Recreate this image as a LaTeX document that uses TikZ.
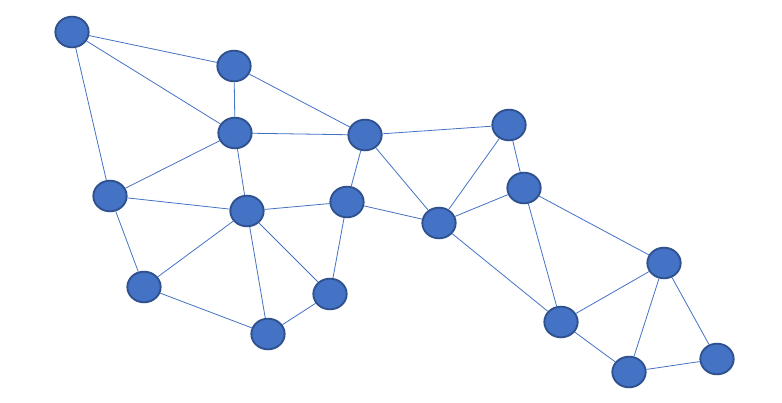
\documentclass[tikz,border=0pt]{standalone}
\usepackage{tikz}
\usetikzlibrary{shapes.geometric}
\definecolor{nodefill}{HTML}{4472C4}
\definecolor{nodeline}{HTML}{2F528F}
\tikzstyle{vertex}=[ellipse,fill=nodefill,draw=nodeline,line width=1.4pt,minimum width=25pt,minimum height=23pt,inner sep=0pt]
\tikzstyle{link}=[draw=nodefill,line width=0.6pt]

\begin{document}
\begin{tikzpicture}[x=0.75pt,y=-0.75pt]
      \useasboundingbox (0,0) rectangle (782,403);
      \node[vertex] at (72,  32) (v1) {};
      \node[vertex] at (234, 66) (v2) {};
      \node[vertex] at (235,133) (v3) {};
      \node[vertex] at (365,135) (v4) {};
      \node[vertex] at (509,125) (v5) {};
      \node[vertex] at (110,196) (v6) {};
      \node[vertex] at (247,211) (v7) {};
      \node[vertex] at (347,202) (v8) {};
      \node[vertex] at (439,223) (v9) {};
      \node[vertex] at (524,188) (v10) {};
      \node[vertex] at (144,287) (v11) {};
      \node[vertex] at (330,294) (v12) {};
      \node[vertex] at (268,334) (v13) {};
      \node[vertex] at (664,263) (v14) {};
      \node[vertex] at (561,322) (v15) {};
      \node[vertex] at (629,372) (v16) {};
      \node[vertex] at (717,359) (v17) {};
      \path[link] (v1) edge (v2);
      \path[link] (v1) edge (v3);
      \path[link] (v1) edge (v6);
      \path[link] (v2) edge (v3);
      \path[link] (v2) edge (v4);
      \path[link] (v3) edge (v4);
      \path[link] (v3) edge (v6);
      \path[link] (v3) edge (v7);
      \path[link] (v4) edge (v5);
      \path[link] (v4) edge (v8);
      \path[link] (v4) edge (v9);
      \path[link] (v5) edge (v9);
      \path[link] (v5) edge (v10);
      \path[link] (v6) edge (v7);
      \path[link] (v6) edge (v11);
      \path[link] (v7) edge (v8);
      \path[link] (v7) edge (v11);
      \path[link] (v7) edge (v13);
      \path[link] (v7) edge (v12);
      \path[link] (v8) edge (v12);
      \path[link] (v8) edge (v9);
      \path[link] (v9) edge (v10);
      \path[link] (v9) edge (v15);
      \path[link] (v10) edge (v15);
      \path[link] (v10) edge (v14);
      \path[link] (v11) edge (v13);
      \path[link] (v12) edge (v13);
      \path[link] (v14) edge (v15);
      \path[link] (v14) edge (v16);
      \path[link] (v14) edge (v17);
      \path[link] (v15) edge (v16);
      \path[link] (v16) edge (v17);
  	\end{tikzpicture}
\end{document}
